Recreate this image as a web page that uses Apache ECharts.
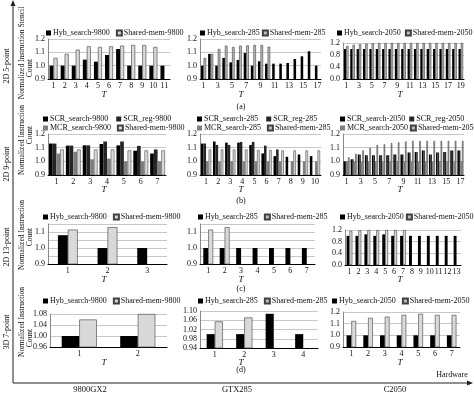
<!DOCTYPE html>
<html><head><meta charset="utf-8">
<script src="https://cdn.jsdelivr.net/npm/echarts@6/dist/echarts.min.js"></script>
<style>html,body{margin:0;padding:0;background:#fff}#c{width:474px;height:395px}</style>
</head><body><div id="c"></div>
<script>
// ---------- data ----------
const cat_a1 = ['1','2','3','4','5','6','7','8','9','10','11'];
const hyb_a1 = [1.00,1.00,1.00,1.045,1.03,1.08,1.125,1.00,1.00,1.00,1.00];
const shm_a1 = [1.058,1.088,1.12,1.145,1.14,1.145,1.15,1.155,1.155,1.14,null];

const cat_a2 = ['1','2','3','4','5','6','7','8','9','10','11','12','13','14','15','16','17'];
const hyb_a2 = [1.00,1.088,1.00,1.058,1.025,1.043,1.095,1.00,1.033,1.015,1.015,1.015,1.02,1.05,1.07,1.108,1.00];
const shm_a2 = [1.058,1.088,1.125,1.15,1.14,1.15,1.152,1.155,1.155,1.142,null,null,null,null,null,null,null];

const cat_a3 = ['1','2','3','4','5','6','7','8','9','10','11','12','13','14','15','16','17','18','19'];
const hyb_a3 = [1,1,1,1,1,1,1,1,1,1,1,1,1,1,1,1,1,1,1];
const shm_a3 = [1.10,1.14,1.16,1.18,1.19,1.20,1.20,1.20,1.20,1.20,1.20,1.20,1.20,1.20,1.20,1.20,1.20,1.20,1.20];

const cat_b1 = ['1','2','3','4','5','6','7'];
const scrS_b1 = [1.13,1.115,1.117,1.127,1.117,1.078,1.057];
const scrR_b1 = [1.13,1.115,1.117,1.145,1.145,1.113,1.087];
const mcr_b1  = [1.057,1.07,1.015,1.02,1.00,1.00,1.00];
const shm_b1  = [1.087,1.087,1.087,1.087,1.08,1.08,1.08];

const cat_b2 = ['1','2','3','4','5','6','7','8','9','10'];
const scrS_b2 = [1.13,1.145,1.137,1.137,1.12,1.058,1.038,1.033,1.05,1.038];
const scrR_b2 = [1.13,1.12,1.12,1.142,1.142,1.115,1.087,null,null,null];
const mcr_b2  = [1.00,1.00,1.00,1.00,1.00,1.00,1.00,1.00,1.00,1.00];
const shm_b2  = [1.087,1.087,1.087,1.087,1.083,1.083,1.08,1.08,1.08,1.08];

const cat_b3 = ['1','2','3','4','5','6','7','8','9','10','11','12','13','14','15','16','17'];
const scrS_b3 = [1.00,1.015,1.05,1.045,1.045,1.045,1.045,1.05,1.05,1.065,1.068,1.08,1.05,1.065,1.068,1.08,1.08];
const scrR_b3 = [1.00,1.015,1.05,1.045,1.045,1.045,1.045,1.05,1.05,1.065,1.068,1.08,1.05,1.065,1.068,1.08,1.08];
const mcr_b3  = [1.00,1.00,1.00,1.00,1.00,1.00,1.00,1.00,1.00,1.00,1.00,1.00,1.00,1.00,1.00,1.00,1.00];
const shm_b3  = [1.03,1.055,1.08,1.10,1.12,1.125,1.135,1.14,1.145,1.15,1.15,1.15,1.15,1.15,1.15,1.15,1.15];

const cat_c1 = ['1','2','3'];
const hyb_c1 = [1.08,1.00,1.00];
const shm_c1 = [1.115,1.13,null];

const cat_c2 = ['1','2','3','4','5','6','7'];
const hyb_c2 = [1,1,1,1,1,1,1];
const shm_c2 = [1.115,1.13,null,null,null,null,null];

const cat_c3 = ['1','2','3','4','5','6','7','8','9','10','11','12','13'];
const hyb_c3 = [1,1,1.05,1,1.05,1,1,1,1,1,1,1,1];
const shm_c3 = [1.17,1.19,1.20,1.20,1.20,1.20,1.20,null,null,null,null,null,null];

const cat_d1 = ['1','2'];
const hyb_d1 = [1.00,1.00];
const shm_d1 = [1.06,1.08];

const cat_d2 = ['1','2','3','4'];
const hyb_d2 = [1.00,1.00,1.088,1.00];
const shm_d2 = [1.055,1.072,null,null];

const cat_d3 = ['1','2','3','4','5','6','7'];
const hyb_d3 = [1,1,1,1,1,1,1];
const shm_d3 = [1.123,1.15,1.16,1.175,1.185,1.175,1.175];

const rowLabels = ['2D 5-point','2D 9-point','2D 13-point','3D 7-point'];
const colLabels = ['9800GX2','GTX285','C2050'];
const panelLabels = ['(a)','(b)','(c)','(d)'];

// ---------- style ----------
const FONT = 'Liberation Serif';
const BLACK = '#000000', DARK = '#262626', MID = '#7f7f7f', LIGHT = '#d9d9d9';

const grids = [], xAxes = [], yAxes = [], series = [], legends = [], graphics = [];

function panel(g, cats, yMin, yMax, yInt, dec, lblInt, gap, list, onlyTenths) {
  const i = grids.length;
  grids.push({left: g[0], top: g[1], width: g[2], height: g[3]});
  xAxes.push({type: 'category', gridIndex: i, data: cats,
    axisLine: {lineStyle: {color: '#000', width: 1}}, axisTick: {show: false},
    axisLabel: {fontFamily: FONT, fontSize: 8, color: '#111', margin: 3, interval: lblInt}});
  yAxes.push({type: 'value', gridIndex: i, min: yMin, max: yMax, interval: yInt,
    axisLine: {show: true, lineStyle: {color: '#888'}}, axisTick: {show: false},
    splitLine: {lineStyle: {color: '#c8c8c8', width: 1}},
    axisLabel: {show: true, hideOverlap: false, fontFamily: FONT, fontSize: 8, color: '#111', margin: 3,
      formatter: onlyTenths
        ? (v => (Math.abs(v * 10 - Math.round(v * 10)) < 1e-6 ? v.toFixed(1) : ''))
        : (v => v.toFixed(dec))}});
  list.forEach(s => series.push({type: 'bar', name: s.name, xAxisIndex: i, yAxisIndex: i,
    data: s.data, barGap: '0%', barCategoryGap: gap, clip: true, animation: false,
    itemStyle: {color: s.color, borderColor: s.border || s.color, borderWidth: s.border ? 0.6 : 0}}));
}
function legend(left, top, names, gap) {
  legends.push({left: left, top: top, width: 300, data: names, itemWidth: 5, itemHeight: 5, itemGap: gap || 6,
    icon: 'rect', padding: 0, selectedMode: false, orient: 'horizontal',
    textStyle: {fontFamily: FONT, fontSize: 8, color: '#111', padding: [0, 0, 0, -3]}});
}
const H = (sfx, d) => ({name: 'Hyb_search-' + sfx, data: d, color: BLACK});
const S = (sfx, d, c) => ({name: 'Shared-mem-' + sfx, data: d, color: c || LIGHT, border: '#404040'});

// Row (a)
panel([48, 39, 122, 40], cat_a1, 0.9, 1.2, 0.1, 1, 0, '28%', [H('9800', hyb_a1), S('9800', shm_a1)]);
panel([200, 39, 121, 40], cat_a2, 0.9, 1.2, 0.1, 1, 1, '28%', [H('285', hyb_a2), S('285', shm_a2, '#bdbdbd')]);
panel([343, 43, 121, 36], cat_a3, 0, 1.2, 0.4, 1, 1, '28%', [H('2050', hyb_a3), S('2050', shm_a3, '#bdbdbd')]);
legend(46, 29, ['Hyb_search-9800', 'Shared-mem-9800']);
legend(200, 29, ['Hyb_search-285', 'Shared-mem-285'], 2);
legend(337, 29, ['Hyb_search-2050', 'Shared-mem-2050'], 4);

// Row (b)
const B = (sfx, a, b, c, d, shc) => [
  {name: 'SCR_search-' + sfx, data: a, color: BLACK},
  {name: 'SCR_reg-' + sfx, data: b, color: DARK},
  {name: 'MCR_search-' + sfx, data: c, color: MID},
  {name: 'Shared-mem-' + sfx, data: d, color: shc || LIGHT, border: '#505050'}];
panel([48, 134, 118, 41], cat_b1, 0.9, 1.2, 0.1, 1, 0, '12%', B('9800', scrS_b1, scrR_b1, mcr_b1, shm_b1));
panel([200, 134, 121, 41], cat_b2, 0.9, 1.2, 0.1, 1, 0, '15%', B('285', scrS_b2, scrR_b2, mcr_b2, shm_b2));
panel([343, 134, 121, 41], cat_b3, 0.9, 1.2, 0.1, 1, 1, '15%', B('2050', scrS_b3, scrR_b3, mcr_b3, shm_b3, '#a6a6a6'));
legend(43, 115, ['SCR_search-9800', 'SCR_reg-9800'], 8);
legend(43, 124, ['MCR_search-9800', 'Shared-mem-9800'], 6);
legend(197, 115, ['SCR_search-285', 'SCR_reg-285'], 8);
legend(197, 124, ['MCR_search-285', 'Shared-mem-285'], 6);
legend(340, 115, ['SCR_search-2050', 'SCR_reg-2050'], 4);
legend(340, 124, ['MCR_search-2050', 'Shared-mem-2050'], 2);

// Row (c)
panel([48, 224, 119, 40], cat_c1, 0.9, 1.15, 0.05, 1, 0, '50%', [H('9800', hyb_c1), S('9800', shm_c1)], true);
panel([200, 224, 115, 40], cat_c2, 0.9, 1.15, 0.05, 1, 0, '40%', [H('285', hyb_c2), S('285', shm_c2)], true);
panel([345, 230, 116, 35], cat_c3, 0, 1.2, 0.4, 1, 0, '35%', [H('2050', hyb_c3), S('2050', shm_c3)]);
legend(43, 213, ['Hyb_search-9800', 'Shared-mem-9800']);
legend(198, 213, ['Hyb_search-285', 'Shared-mem-285']);
legend(340, 213, ['Hyb_search-2050', 'Shared-mem-2050'], 2);

// Row (d)
panel([50, 314, 117, 33], cat_d1, 0.96, 1.08, 0.04, 2, 0, '40%', [H('9800', hyb_d1), S('9800', shm_d1)]);
panel([200, 311, 118, 37], cat_d2, 0.94, 1.10, 0.04, 2, 0, '45%', [H('285', hyb_d2), S('285', shm_d2)]);
panel([343, 312, 117, 35], cat_d3, 0.9, 1.2, 0.1, 1, 0, '43%', [H('2050', hyb_d3), S('2050', shm_d3)]);
legend(43, 297, ['Hyb_search-9800', 'Shared-mem-9800']);
legend(198, 297, ['Hyb_search-285', 'Shared-mem-285']);
legend(332, 297, ['Hyb_search-2050', 'Shared-mem-2050']);

// ---------- text decorations ----------
function txt(x, y, s, o) {
  graphics.push(Object.assign({type: 'text', x: x, y: y, silent: true,
    style: Object.assign({text: s, fontFamily: FONT, fontSize: 8, fill: '#111', textAlign: 'center', textVerticalAlign: 'middle'}, (o && o.style) || {})},
    o && o.rotation !== undefined ? {rotation: o.rotation} : {}));
}
const TX = [104, 241, 400];
const TY = [95, 190, 280, 363];
TY.forEach(y => TX.forEach(x => txt(x, y, 'T', {style: {fontStyle: 'italic', fontSize: 9}})));
const PY = [107, 201, 289, 370];
panelLabels.forEach((s, k) => txt(241, PY[k], s));
const RY = [66, 164, 247, 332];
rowLabels.forEach((s, k) => txt(7, RY[k], s, {rotation: Math.PI / 2, style: {fontSize: 8}}));
const TitleY1 = [53, 140, 235, 322], TitleY2 = [68, 135, 237, 338];
TitleY1.forEach((y, k) => txt(22, y, k === 0 ? 'Normalized Instruction Stencil' : 'Normalized Instruction', {rotation: Math.PI / 2, style: {fontSize: 7.5}}));
TitleY2.forEach((y, k) => txt(30, y, 'Count', {rotation: Math.PI / 2, style: {fontSize: 7.5}}));
const CX = [90, 237, 395];
colLabels.forEach((s, k) => txt(CX[k], 390, s, {style: {fontSize: 8.5}}));
txt(452, 375, 'Hardware', {style: {fontSize: 8}});
// outer arrows
graphics.push({type: 'line', shape: {x1: 13, y1: 383, x2: 13, y2: 3}, style: {stroke: '#222', lineWidth: 1}, silent: true});
graphics.push({type: 'polygon', shape: {points: [[13, 0], [10.5, 6], [15.5, 6]]}, style: {fill: '#222'}, silent: true});
graphics.push({type: 'line', shape: {x1: 13, y1: 383, x2: 469, y2: 383}, style: {stroke: '#222', lineWidth: 1}, silent: true});
graphics.push({type: 'polygon', shape: {points: [[473, 383], [467, 380.5], [467, 385.5]]}, style: {fill: '#222'}, silent: true});

const chart = echarts.init(document.getElementById('c'), null, {renderer: 'canvas'});
chart.setOption({animation: false, backgroundColor: '#fff', grid: grids, xAxis: xAxes, yAxis: yAxes,
  series: series, legend: legends, graphic: graphics});
</script></body></html>
